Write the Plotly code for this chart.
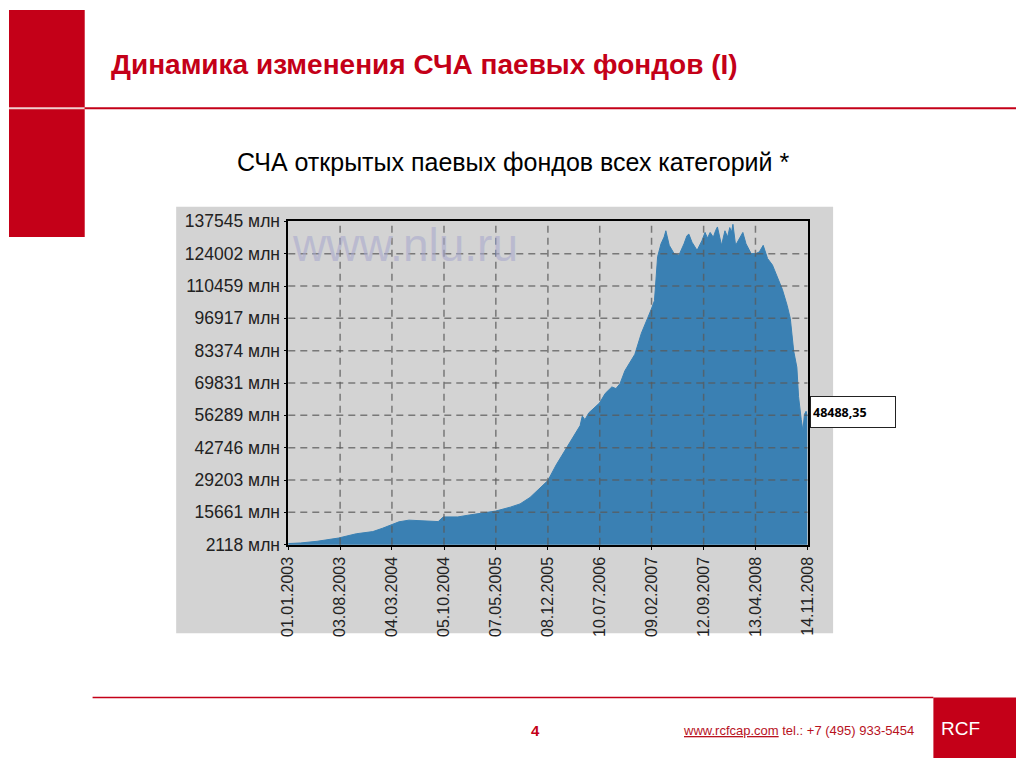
import plotly.graph_objects as go

# ---------------- data ----------------
dates = [
    "2003-01-01", "2003-02-21", "2003-04-30", "2003-07-27", "2003-10-09", "2003-12-16",
    "2004-01-25", "2004-03-03", "2004-04-02", "2004-05-13", "2004-07-06", "2004-09-11",
    "2004-10-02", "2004-12-01", "2005-01-11", "2005-03-06", "2005-05-06", "2005-07-06",
    "2005-08-15", "2005-09-25", "2005-11-05", "2005-12-08", "2006-01-11", "2006-02-21",
    "2006-03-20", "2006-04-10", "2006-04-20", "2006-04-29", "2006-05-10", "2006-05-26",
    "2006-06-23", "2006-07-09", "2006-08-02", "2006-08-29", "2006-09-15", "2006-10-02",
    "2006-10-22", "2006-12-02", "2006-12-29", "2007-01-25", "2007-02-07", "2007-02-21",
    "2007-03-06", "2007-03-20", "2007-04-02", "2007-04-09", "2007-04-23", "2007-05-13",
    "2007-06-02", "2007-06-23", "2007-07-05", "2007-07-13", "2007-07-26", "2007-08-16",
    "2007-09-05", "2007-09-18", "2007-09-28", "2007-10-09", "2007-10-22", "2007-11-01",
    "2007-11-08", "2007-11-25", "2007-12-09", "2007-12-20", "2007-12-29", "2008-01-05",
    "2008-01-11", "2008-01-22", "2008-02-07", "2008-02-21", "2008-03-05", "2008-03-26",
    "2008-04-15", "2008-04-29", "2008-05-15", "2008-06-02", "2008-06-22", "2008-07-12",
    "2008-08-02", "2008-08-22", "2008-09-04", "2008-09-11", "2008-09-18", "2008-10-01",
    "2008-10-08", "2008-10-19", "2008-10-26", "2008-11-01", "2008-11-08", "2008-11-14",
]
nav_mln = [
    2600, 2850, 3550, 4900, 6700, 7600,
    9000, 10370, 11700, 12400, 12100, 11800,
    13750, 13750, 14450, 15400, 16200, 17850,
    19200, 21900, 26000, 29000, 35500, 42350,
    46450, 50500, 52000, 56000, 54500, 57350,
    60050, 61450, 65500, 68200, 67500, 69600,
    75000, 81850, 90700, 96800, 100500, 104300,
    122700, 128150, 131000, 133600, 127500, 124050,
    123350, 128150, 131500, 132200, 128800, 125400,
    129450, 132900, 130500, 132900, 130900, 133800,
    135200, 127500, 133600, 131000, 134950, 133000,
    136300, 127500, 130200, 132900, 128150, 124050,
    124050, 124750, 127500, 122000, 119300, 114550,
    109100, 102300, 96800, 90000, 83200, 76400,
    64150, 54600, 49800, 56650, 58000, 55950,
]

y_ticks = [2118, 15661, 29203, 42746, 56289, 69831, 83374, 96917, 110459, 124002, 137545]
y_tick_labels = [f"{v} млн" for v in y_ticks]

x_ticks = ["2003-01-01", "2003-08-03", "2004-03-04", "2004-10-05", "2005-05-07", "2005-12-08",
           "2006-07-10", "2007-02-09", "2007-09-12", "2008-04-13", "2008-11-14"]
x_tick_labels = ["01.01.2003", "03.08.2003", "04.03.2004", "05.10.2004", "07.05.2005", "08.12.2005",
                 "10.07.2006", "09.02.2007", "12.09.2007", "13.04.2008", "14.11.2008"]

last_value_label = "48488,35"

title_text = "Динамика изменения СЧА паевых фондов (I)"
subtitle_text = "СЧА открытых паевых фондов всех категорий *"

# ---------------- layout constants ----------------
W, H = 1024, 768
RED = "#c40018"
BLUE = "#3a80b3"

def px(x):
    return x / W

def py(y):
    return 1 - y / H

plot_l, plot_r, plot_t, plot_b = 284, 812, 217, 549

fig = go.Figure()
fig.add_trace(go.Scatter(
    x=dates, y=nav_mln, mode="lines", fill="tozeroy",
    line=dict(color=BLUE, width=1), fillcolor=BLUE, hoverinfo="skip",
))

shapes = []
# Slide decorations
shapes.append(dict(type="rect", xref="paper", yref="paper", x0=0, x1=px(77), y0=py(233), y1=1,
                   fillcolor=RED, line=dict(width=0), layer="below"))
shapes.append(dict(type="line", xref="paper", yref="paper", x0=0, x1=px(77), y0=py(101), y1=py(101),
                   line=dict(color="#f0d0d0", width=2), layer="below"))
shapes.append(dict(type="line", xref="paper", yref="paper", x0=px(77), x1=1, y0=py(101), y1=py(101),
                   line=dict(color=RED, width=2), layer="below"))
# Chart gray background
shapes.append(dict(type="rect", xref="paper", yref="paper", x0=px(170), x1=px(838), y0=py(640), y1=py(202),
                   fillcolor="#d3d3d3", line=dict(width=0), layer="below"))
# Footer
shapes.append(dict(type="line", xref="paper", yref="paper", x0=px(85), x1=px(940), y0=py(706), y1=py(706),
                   line=dict(color=RED, width=1.5), layer="below"))
shapes.append(dict(type="rect", xref="paper", yref="paper", x0=px(940), x1=1, y0=0, y1=py(706),
                   fillcolor=RED, line=dict(width=0), layer="below"))

# Dashed gridlines drawn above the area (as in the reference)
for xv in x_ticks[1:-1]:
    shapes.append(dict(type="line", xref="x", yref="paper", x0=xv, x1=xv, y0=py(plot_b), y1=py(plot_t),
                       line=dict(color="rgba(90,90,90,0.75)", width=1.5, dash="7px,5px"), layer="above"))
for yv in y_ticks[1:-1]:
    shapes.append(dict(type="line", xref="paper", yref="y", x0=px(plot_l), x1=px(plot_r), y0=yv, y1=yv,
                       line=dict(color="rgba(90,90,90,0.75)", width=1.5, dash="7px,5px"), layer="above"))

annotations = [
    dict(text=f"<b>{title_text}</b>", xref="paper", yref="paper", x=px(102), y=py(56),
         xanchor="left", yanchor="middle", showarrow=False,
         font=dict(family="Liberation Sans, Arial", size=28, color=RED)),
    dict(text=subtitle_text, xref="paper", yref="paper", x=px(512), y=py(156),
         xanchor="center", yanchor="middle", showarrow=False,
         font=dict(family="Liberation Sans, Arial", size=25, color="#000000")),
    dict(text="www.nlu.ru", xref="paper", yref="paper", x=px(286), y=py(241),
         xanchor="left", yanchor="middle", showarrow=False,
         font=dict(family="Liberation Sans Narrow, Liberation Sans, Arial", size=46, color="rgba(170,170,205,0.6)")),
    dict(text=f"<b>{last_value_label}</b>", xref="paper", yref="paper", x=px(815), y=py(413),
         xanchor="left", yanchor="middle", showarrow=False, align="left",
         width=80, height=26, bgcolor="white", bordercolor="#222222", borderwidth=1, borderpad=2,
         font=dict(family="Open Sans, Liberation Sans, Arial", size=12.5, color="#000000")),
    dict(text="<b>4</b>", xref="paper", yref="paper", x=px(535), y=py(740),
         xanchor="center", yanchor="middle", showarrow=False,
         font=dict(family="Liberation Sans, Arial", size=15, color=RED)),
    dict(text="<u>www.rcfcap.com</u> tel.: +7 (495) 933-5454", xref="paper", yref="paper",
         x=px(922), y=py(740), xanchor="right", yanchor="middle", showarrow=False,
         font=dict(family="Liberation Sans, Arial", size=13, color="#b8121e")),
    dict(text="RCF", xref="paper", yref="paper", x=px(968), y=py(738),
         xanchor="center", yanchor="middle", showarrow=False,
         font=dict(family="Liberation Sans, Arial", size=19, color="white")),
]

fig.update_layout(
    width=W, height=H,
    margin=dict(l=0, r=0, t=0, b=0),
    paper_bgcolor="white", plot_bgcolor="white",
    showlegend=False,
    shapes=shapes, annotations=annotations,
    xaxis=dict(
        domain=[px(plot_l), px(plot_r)], type="date",
        range=[x_ticks[0], x_ticks[-1]],
        tickmode="array", tickvals=x_ticks, ticktext=x_tick_labels, tickangle=-90,
        ticks="outside", ticklen=4, tickcolor="#000", showgrid=False, zeroline=False,
        showline=True, linecolor="#000", linewidth=1.5, mirror=True,
        tickfont=dict(family="Liberation Sans, Arial", size=16, color="#222"),
    ),
    yaxis=dict(
        domain=[py(plot_b), py(plot_t)],
        range=[y_ticks[0], y_ticks[-1]],
        tickmode="array", tickvals=y_ticks, ticktext=y_tick_labels,
        ticks="outside", ticklen=3, tickcolor="#000", showgrid=False, zeroline=False,
        showline=True, linecolor="#000", linewidth=1.5, mirror=True,
        tickfont=dict(family="Liberation Sans, Arial", size=17.5, color="#222"),
    ),
)

page_fix = (
    "document.documentElement.style.margin='0';"
    "document.documentElement.style.padding='0';"
    "document.body.style.margin='0';"
    "document.body.style.padding='0';"
    "document.body.style.overflow='hidden';"
    "var g=document.getElementsByClassName('plotly-graph-div')[0];"
    "if(g){g.style.position='absolute';g.style.left='0px';g.style.top='0px';}"
)

fig.write_html("out.html", config={"displayModeBar": False}, post_script=page_fix)
